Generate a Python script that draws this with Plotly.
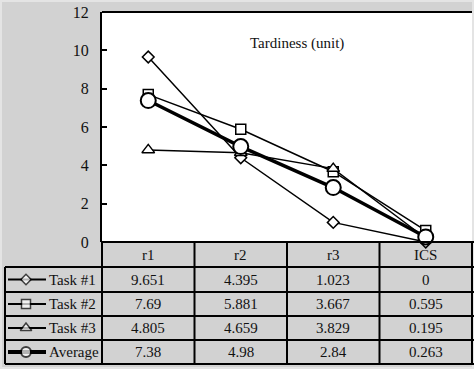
import plotly.graph_objects as go

categories = ["r1", "r2", "r3", "ICS"]
task1 = [9.651, 4.395, 1.023, 0]
task2 = [7.69, 5.881, 3.667, 0.595]
task3 = [4.805, 4.659, 3.829, 0.195]
average = [7.38, 4.98, 2.84, 0.263]
series_names = ["Task #1", "Task #2", "Task #3", "Average"]
y_ticks = [0, 2, 4, 6, 8, 10, 12]
chart_title = "Tardiness (unit)"

W, H = 474, 369
FONT = "Liberation Serif"
BG = "#d2d2d2"

# layout geometry (pixels)
PL, PR, PT, PB = 102, 472, 12, 242
ROWS = [242, 267, 292, 316, 340, 364]
TL = 5


def px(x):
    return x / W


def py(y):
    return 1 - y / H


series = [task1, task2, task3, average]
symbols = ["diamond", "square", "triangle-up", "circle"]
msizes = [9, 10, 11, 15]
lwidths = [1.5, 1.5, 1.5, 3.5]

fig = go.Figure()
for vals, name, sym, ms, lw in zip(series, series_names, symbols, msizes, lwidths):
    fig.add_trace(go.Scatter(
        x=categories, y=vals, name=name, mode="lines+markers",
        line=dict(color="black", width=lw),
        marker=dict(symbol=sym, size=ms, color="white",
                    line=dict(color="black", width=1.5 if lw < 2 else 2)),
        xaxis="x", yaxis="y", showlegend=False, cliponaxis=False,
    ))

# legend symbols inside the table (pixel coordinate overlay axis)
for i, (name, sym, ms, lw) in enumerate(zip(series_names, symbols, msizes, lwidths)):
    yc = (ROWS[i + 1] + ROWS[i + 2]) / 2
    fig.add_trace(go.Scatter(
        x=[8, 26, 46], y=[yc, yc, yc], mode="lines+markers",
        line=dict(color="black", width=lw + 0.5),
        marker=dict(symbol=sym, size=[0, ms - 1 if i < 3 else 10, 0], color="white",
                    line=dict(color="black", width=1.5 if lw < 2 else 2)),
        xaxis="x2", yaxis="y2", showlegend=False, hoverinfo="skip",
    ))

shapes = []
# white plot area
shapes.append(dict(type="rect", xref="paper", yref="paper", x0=px(PL), x1=px(PR),
                   y0=py(PB), y1=py(PT), fillcolor="white", line=dict(width=0), layer="below"))
# light outer frame
shapes.append(dict(type="rect", xref="paper", yref="paper", x0=0, x1=1, y0=0, y1=1,
                   line=dict(color="#e4e4e4", width=4), layer="below"))
# plot area top border
shapes.append(dict(type="line", xref="paper", yref="paper",
                   x0=px(PL), x1=px(PR), y0=py(PT), y1=py(PT),
                   line=dict(color="black", width=2)))
# table horizontal lines
for j, yy in enumerate(ROWS):
    x0 = PL if j == 0 else TL
    shapes.append(dict(type="line", xref="paper", yref="paper",
                       x0=px(x0), x1=px(W), y0=py(yy), y1=py(yy),
                       line=dict(color="black", width=2)))
# table vertical lines
colw = (PR - PL) / len(categories)
for k in range(len(categories) + 1):
    xx = PL + k * colw
    shapes.append(dict(type="line", xref="paper", yref="paper",
                       x0=px(xx), x1=px(xx), y0=py(ROWS[0]), y1=py(ROWS[-1]),
                       line=dict(color="black", width=2)))
shapes.append(dict(type="line", xref="paper", yref="paper",
                   x0=px(TL), x1=px(TL), y0=py(ROWS[1]), y1=py(ROWS[-1]),
                   line=dict(color="black", width=2)))

TXT = dict(family=FONT, size=15, color="#111")
annotations = []
# header labels
for k, c in enumerate(categories):
    xc = PL + (k + 0.5) * colw
    annotations.append(dict(x=px(xc), y=py((ROWS[0] + ROWS[1]) / 2), xref="paper", yref="paper",
                            xanchor="center", yanchor="middle",
                            text=c, showarrow=False, font=TXT))
# rows
for i, (name, vals) in enumerate(zip(series_names, series)):
    yc = (ROWS[i + 1] + ROWS[i + 2]) / 2
    annotations.append(dict(x=px(47), y=py(yc), xref="paper", yref="paper",
                            xanchor="left", yanchor="middle",
                            text=name, showarrow=False, font=TXT))
    for k, v in enumerate(vals):
        xc = PL + (k + 0.5) * colw
        annotations.append(dict(x=px(xc), y=py(yc), xref="paper", yref="paper",
                                xanchor="center", yanchor="middle",
                                text=str(v), showarrow=False, font=TXT))
# title
annotations.append(dict(x=px(297), y=py(44), xref="paper", yref="paper",
                        xanchor="center", yanchor="middle", text=chart_title,
                        showarrow=False, font=TXT))

fig.update_layout(
    width=W, height=H, autosize=False,
    margin=dict(l=0, r=0, t=0, b=0),
    paper_bgcolor=BG, plot_bgcolor="rgba(0,0,0,0)",
    template="none",
    font=TXT,
    xaxis=dict(domain=[px(PL), px(PR)], type="category", range=[-0.5, 3.5],
               showticklabels=False, showgrid=False, zeroline=False, showline=False,
               ticks="", automargin=False, fixedrange=True),
    yaxis=dict(domain=[py(PB), py(PT)], range=[0, 12], tickvals=y_ticks,
               showgrid=False, zeroline=False, showline=True, linecolor="black", linewidth=2,
               ticks="inside", ticklen=5, tickwidth=1.5, tickcolor="black",
               tickfont=dict(family=FONT, size=16, color="#111"), ticklabelstandoff=8,
               automargin=False, fixedrange=True),
    xaxis2=dict(domain=[0, 1], range=[0, W], visible=False, fixedrange=True),
    yaxis2=dict(domain=[0, 1], range=[H, 0], visible=False, fixedrange=True, anchor="x2"),
    shapes=shapes,
    annotations=annotations,
)

fig.write_html("out.html", config={"displayModeBar": False},
               post_script="document.body.style.margin='0';document.body.style.overflow='hidden';")
